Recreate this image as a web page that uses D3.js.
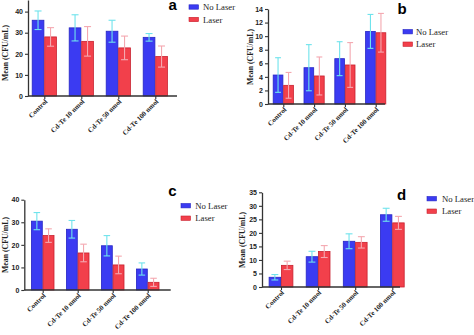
<!DOCTYPE html>
<html><head><meta charset="utf-8">
<script src="https://cdn.jsdelivr.net/npm/d3@7"></script>
<style>html,body{margin:0;padding:0;background:#fff;}svg{display:block;}</style>
</head><body>
<svg id="c" width="474" height="335"></svg>
<script>
const categories = ["Control", "Cd-Te 10 nmol", "Cd-Te 50 nmol", "Cd-Te 100 nmol"];
const seriesNames = ["No Laser", "Laser"];
const panelLabels = ["a", "b", "c", "d"];

const aNoLaser = [35.9, 32.3, 30.7, 27.8];
const aNoLaserErr = [4.4, 6.2, 5.2, 1.8];
const aLaser = [28.0, 25.9, 22.8, 18.7];
const aLaserErr = [4.4, 7.0, 5.6, 5.0];
const aTicks = [0, 10, 20, 30, 40];

const bNoLaser = [4.27, 5.35, 6.68, 10.7];
const bNoLaserErr = [2.55, 3.4, 2.5, 2.5];
const bLaser = [2.75, 4.13, 5.75, 10.5];
const bLaserErr = [1.9, 2.8, 3.3, 2.85];
const bTicks = [0, 2, 4, 6, 8, 10, 12, 14];

const cNoLaser = [30.5, 26.9, 19.6, 9.3];
const cNoLaserErr = [3.8, 3.9, 4.5, 2.7];
const cLaser = [24.1, 16.4, 11.1, 3.4];
const cLaserErr = [3.0, 3.9, 3.9, 1.8];
const cTicks = [0, 10, 20, 30, 40];

const dNoLaser = [3.6, 11.2, 16.9, 26.7];
const dNoLaserErr = [1.0, 2.0, 2.75, 2.4];
const dLaser = [8.0, 13.1, 16.5, 23.7];
const dLaserErr = [1.55, 2.2, 2.1, 2.4];
const dTicks = [0, 5, 10, 15, 20, 25, 30, 35];

const yTitle = "Mean (CFU/mL)";

const fills = ["#3b3bf2", "#f2404b"];
const strokes = ["#2626c4", "#c8202e"];
const errCols = ["#6fe3ec", "#f4a8b0"];

const panels = [
  {label: panelLabels[0], nl: aNoLaser, nle: aNoLaserErr, l: aLaser, le: aLaserErr, ticks: aTicks,
   ax0: 28, ax1: 177, c0: 44.3, c3: 155.3, bw: 12.5, dom: [0, 45.5], ry: [96, 0],
   lab: [168.5, 10], leg: [189, 7, 203], title: [5.5, 53]},
  {label: panelLabels[1], nl: bNoLaser, nle: bNoLaserErr, l: bLaser, le: bLaserErr, ticks: bTicks,
   ax0: 268, ax1: 385, c0: 283.3, c3: 375.7, bw: 10.5, dom: [0, 14], ry: [104, 9],
   lab: [397.5, 14.3], leg: [403, 31.7, 416], title: [250.5, 57]},
  {label: panelLabels[2], nl: cNoLaser, nle: cNoLaserErr, l: cLaser, le: cLaserErr, ticks: cTicks,
   ax0: 24.3, ax1: 170.7, c0: 42.7, c3: 147.7, bw: 11.7, dom: [0, 40], ry: [290, 199.7],
   lab: [168.3, 196.3], leg: [181, 205.7, 195.3], title: [5.5, 245]},
  {label: panelLabels[3], nl: dNoLaser, nle: dNoLaserErr, l: dLaser, le: dLaserErr, ticks: dTicks,
   ax0: 262, ax1: 400, c0: 281, c3: 392.3, bw: 12.3, dom: [0, 35], ry: [287, 192.3],
   lab: [397, 200.3], leg: [427, 198.7, 442], title: [242, 240]}
];

const svg = d3.select("#c");
const serif = "'Liberation Serif','Times New Roman',serif";
const sans = "'Liberation Sans',Arial,sans-serif";

panels.forEach(p => {
  const g = svg.append("g");
  const x = d3.scalePoint().domain(categories).range([p.c0, p.c3]);
  const y = d3.scaleLinear().domain(p.dom).range(p.ry);
  const sub = d3.scaleBand().domain(seriesNames).range([-p.bw, p.bw]).padding(0);
  const series = [
    {name: seriesNames[0], v: p.nl, e: p.nle, i: 0},
    {name: seriesNames[1], v: p.l, e: p.le, i: 1}
  ];
  series.forEach(s => {
    const gs = g.append("g");
    gs.selectAll("rect").data(categories).join("rect")
      .attr("x", (c) => x(c) + sub(s.name) + 0.4)
      .attr("width", sub.bandwidth() - 0.8)
      .attr("y", (c, i) => y(s.v[i]))
      .attr("height", (c, i) => y(0) - y(s.v[i]))
      .attr("fill", fills[s.i]).attr("stroke", strokes[s.i]).attr("stroke-width", 0.8);
  });
  series.forEach(s => {
    const ge = g.append("g").attr("stroke", errCols[s.i]).attr("stroke-width", 1.1).attr("fill", "none");
    categories.forEach((c, i) => {
      const cx = x(c) + sub(s.name) + sub.bandwidth() / 2;
      const hi = y(s.v[i] + s.e[i]), lo = y(Math.max(0, s.v[i] - s.e[i]));
      const cw = sub.bandwidth() * 0.28;
      ge.append("line").attr("x1", cx).attr("x2", cx).attr("y1", hi).attr("y2", lo);
      ge.append("line").attr("x1", cx - cw).attr("x2", cx + cw).attr("y1", hi).attr("y2", hi);
      ge.append("line").attr("x1", cx - cw).attr("x2", cx + cw).attr("y1", lo).attr("y2", lo);
    });
  });
  // y axis
  const yAxis = d3.axisLeft(y).tickValues(p.ticks).tickSize(3).tickPadding(2).tickSizeOuter(0);
  const ya = g.append("g").attr("transform", `translate(${p.ax0},0)`).call(yAxis);
  ya.select(".domain").attr("stroke", "#333").attr("stroke-width", 1.3);
  ya.selectAll(".tick line").attr("stroke", "#333").attr("stroke-width", 1.1);
  ya.selectAll(".tick text").attr("font-family", sans).attr("font-weight", "bold")
    .attr("font-size", "7px").attr("fill", "#222");
  // x axis
  const xs = d3.scaleLinear().domain([0, 1]).range([p.ax0, p.ax1]);
  g.append("line").attr("x1", p.ax0).attr("x2", p.ax1).attr("y1", y(0)).attr("y2", y(0))
    .attr("stroke", "#333").attr("stroke-width", 1.3);
  const xAxis = d3.axisBottom(x).tickSize(3).tickSizeOuter(0).tickFormat(d => d);
  const xa = g.append("g").attr("transform", `translate(0,${y(0)})`).call(xAxis);
  xa.select(".domain").remove();
  xa.selectAll(".tick line").attr("stroke", "#333").attr("stroke-width", 1.1);
  xa.selectAll(".tick text")
    .attr("font-family", serif).attr("font-weight", "bold").attr("font-size", "7px").attr("fill", "#222")
    .attr("text-anchor", "end").attr("dy", null).attr("y", null)
    .attr("transform", "translate(3,6) rotate(-45)");
  // y title
  g.append("text").attr("transform", `translate(${p.title[0]},${p.title[1]}) rotate(-90)`)
    .attr("text-anchor", "middle").attr("dominant-baseline", "central")
    .attr("font-family", serif).attr("font-weight", "bold").attr("font-size", "7.8px").attr("fill", "#222")
    .text(yTitle);
  // panel label
  g.append("text").attr("x", p.lab[0]).attr("y", p.lab[1])
    .attr("font-family", sans).attr("font-weight", "bold").attr("font-size", "15px").attr("fill", "#000")
    .text(p.label);
  // legend
  series.forEach((s, k) => {
    const ly = p.leg[1] + k * 12.5;
    g.append("rect").attr("x", p.leg[0]).attr("y", ly - 2.2).attr("width", 9.5).attr("height", 4.4)
      .attr("fill", fills[s.i]).attr("stroke", strokes[s.i]).attr("stroke-width", 0.6);
    g.append("text").attr("x", p.leg[2]).attr("y", ly).attr("dominant-baseline", "central")
      .attr("font-family", serif).attr("font-size", "8.7px").attr("fill", "#222").text(s.name);
  });
});
</script>
</body></html>
